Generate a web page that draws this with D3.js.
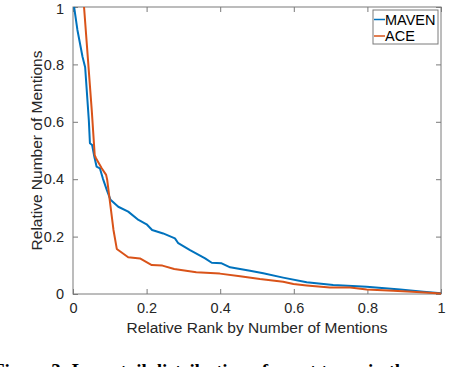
<!DOCTYPE html>
<html>
<head>
<meta charset="utf-8">
<script src="https://cdn.jsdelivr.net/npm/d3@7"></script>
<style>
  body { margin: 0; background: #fff; }
  svg { display: block; }
</style>
</head>
<body>
<div id="chart"></div>
<script>
// Data
const mavenX = [0.003, 0.012, 0.026, 0.033, 0.043, 0.046, 0.052, 0.058, 0.064, 0.073, 0.081, 0.092, 0.102, 0.123, 0.150, 0.178, 0.200, 0.215, 0.245, 0.277, 0.286, 0.318, 0.359, 0.377, 0.404, 0.427, 0.454, 0.481, 0.517, 0.571, 0.635, 0.707, 0.798, 0.889, 0.952, 1.0];
const mavenY = [1.0, 0.92, 0.826, 0.79, 0.606, 0.525, 0.519, 0.478, 0.444, 0.438, 0.403, 0.362, 0.328, 0.304, 0.287, 0.258, 0.243, 0.223, 0.211, 0.194, 0.177, 0.153, 0.124, 0.109, 0.107, 0.093, 0.087, 0.081, 0.072, 0.057, 0.041, 0.031, 0.025, 0.016, 0.008, 0.003];

const aceX = [0.030, 0.051, 0.059, 0.0625, 0.078, 0.090, 0.093, 0.110, 0.119, 0.150, 0.182, 0.214, 0.243, 0.275, 0.335, 0.399, 0.454, 0.508, 0.571, 0.599, 0.635, 0.698, 0.753, 0.798, 0.870, 0.934, 1.0];
const aceY = [1.0, 0.64, 0.484, 0.473, 0.438, 0.415, 0.397, 0.223, 0.157, 0.128, 0.124, 0.101, 0.099, 0.087, 0.076, 0.071, 0.062, 0.052, 0.043, 0.035, 0.030, 0.023, 0.023, 0.016, 0.011, 0.007, 0.002];

const xTicks = [0, 0.2, 0.4, 0.6, 0.8, 1];
const yTicks = [0, 0.2, 0.4, 0.6, 0.8, 1];

const seriesNames = ["MAVEN", "ACE"];
const seriesColors = ["#0072BD", "#D95319"];

const width = 474, height = 367;
const margin = { left: 73, right: 33, top: 7, bottom: 73 };

const svg = d3.select("#chart").append("svg")
  .attr("width", width)
  .attr("height", height);

const x = d3.scaleLinear().domain([0, 1]).range([margin.left, width - margin.right]);
const y = d3.scaleLinear().domain([0, 1]).range([height - margin.bottom, margin.top]);

const font = "'Liberation Sans', Arial, Helvetica, sans-serif";
const axisColor = "#7a7a7a";
const textColor = "#262626";

// Box
svg.append("rect")
  .attr("x", x(0)).attr("y", y(1))
  .attr("width", x(1) - x(0)).attr("height", y(0) - y(1))
  .attr("fill", "none").attr("stroke", axisColor).attr("stroke-width", 1);

// Axes with inward ticks
function styleAxis(g) {
  g.select(".domain").remove();
  g.selectAll(".tick line").attr("stroke", axisColor);
  g.selectAll(".tick text").attr("fill", textColor)
    .style("font-family", font).style("font-size", "14.5px");
}

svg.append("g").attr("transform", `translate(0,${y(0)})`)
  .call(d3.axisBottom(x).tickValues(xTicks).tickSizeInner(-5).tickPadding(9).tickFormat(d3.format("")))
  .call(styleAxis);
svg.append("g").attr("transform", `translate(0,${y(1)})`)
  .call(d3.axisTop(x).tickValues(xTicks).tickSizeInner(-5).tickFormat(""))
  .call(styleAxis);
const yAxis = svg.append("g").attr("transform", `translate(${x(0)},0)`)
  .call(d3.axisLeft(y).tickValues(yTicks).tickSizeInner(-5).tickPadding(9).tickFormat(d3.format("")))
  .call(styleAxis);
// keep the top "1" inside the window
yAxis.selectAll(".tick text").filter(d => d === 1).attr("dy", "0.42em");
svg.append("g").attr("transform", `translate(${x(1)},0)`)
  .call(d3.axisRight(y).tickValues(yTicks).tickSizeInner(-5).tickFormat(""))
  .call(styleAxis);

// Lines
const line = d3.line().x(d => x(d[0])).y(d => y(d[1]));
const series = [
  d3.zip(mavenX, mavenY),
  d3.zip(aceX, aceY)
];
series.forEach((pts, i) => {
  svg.append("path")
    .datum(pts)
    .attr("d", line)
    .attr("fill", "none")
    .attr("stroke", seriesColors[i])
    .attr("stroke-width", 2)
    .attr("stroke-linejoin", "round");
});

// Axis labels
svg.append("text")
  .attr("x", (x(0) + x(1)) / 2).attr("y", 333)
  .attr("text-anchor", "middle")
  .attr("fill", textColor)
  .style("font-family", font).style("font-size", "15.5px")
  .text("Relative Rank by Number of Mentions");

svg.append("text")
  .attr("transform", `translate(42,${(y(0) + y(1)) / 2}) rotate(-90)`)
  .attr("text-anchor", "middle")
  .attr("fill", textColor)
  .style("font-family", font).style("font-size", "15.5px")
  .text("Relative Number of Mentions");

// Legend
const legend = svg.append("g").attr("transform", "translate(373,10)");
legend.append("rect")
  .attr("width", 65).attr("height", 34)
  .attr("fill", "#fff").attr("stroke", axisColor);
seriesNames.forEach((name, i) => {
  const cy = 9.5 + i * 16.5;
  legend.append("line")
    .attr("x1", 1).attr("x2", 12).attr("y1", cy).attr("y2", cy)
    .attr("stroke", seriesColors[i]).attr("stroke-width", 1.5);
  legend.append("text")
    .attr("x", 12).attr("y", cy + 5)
    .attr("fill", "#000")
    .style("font-family", font).style("font-size", "14.5px")
    .text(name);
});

// Caption, clipped by the bottom edge as in the reference
svg.append("text")
  .attr("x", -7).attr("y", 377)
  .attr("fill", "#000")
  .style("font-family", "'Liberation Serif', 'Times New Roman', serif")
  .style("font-size", "19px").style("font-weight", "bold")
  .text("Figure 3:  Long-tail distribution of event types in the");
</script>
</body>
</html>
